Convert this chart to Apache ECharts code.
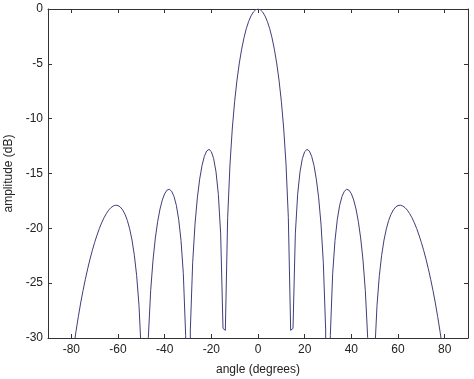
<!DOCTYPE html>
<html>
<head>
<meta charset="utf-8">
<script src="https://cdn.jsdelivr.net/npm/echarts@6/dist/echarts.min.js"></script>
<style>
html,body{margin:0;padding:0;background:#fff;}
#c{width:474px;height:379px;}
</style>
</head>
<body>
<div id="c"></div>
<script>
// angle samples (degrees)
var angles = [
-90,-89,-88,-87,-86,-85,-84,-83,-82,-81,-80,-79,-78,-77,-76,-75,-74,-73,-72,-71,
-70,-69,-68,-67,-66,-65,-64,-63,-62,-61,-60,-59,-58,-57,-56,-55,-54,-53,-52,-51,
-50,-49,-48,-47,-46,-45,-44,-43,-42,-41,-40,-39,-38,-37,-36,-35,-34,-33,-32,-31,
-30,-29,-28,-27,-26,-25,-24,-23,-22,-21,-20,-19,-18,-17,-16,-15,-14,-13,-12,-11,
-10,-9,-8,-7,-6,-5,-4,-3,-2,-1,
0,1,2,3,4,5,6,7,8,9,10,11,12,13,14,15,16,17,18,19,
20,21,22,23,24,25,26,27,28,29,30,31,32,33,34,35,36,37,38,39,
40,41,42,43,44,45,46,47,48,49,50,51,52,53,54,55,56,57,58,59,
60,61,62,63,64,65,66,67,68,69,70,71,72,73,74,75,76,77,78,79,
80,81,82,83,84,85,86,87,88,89,90
];
// amplitude (dB), left half: -90 .. -1
var ampLeft = [
-100,-72.4,-60.4,-53.3,-48.3,-44.5,-41.3,-38.6,-36.3,-34.3,
-32.5,-30.87,-29.39,-28.05,-26.81,-25.68,-24.65,-23.69,-22.81,-22.01,
-21.28,-20.62,-20.02,-19.49,-19.04,-18.66,-18.34,-18.11,-17.96,-17.89,
-17.92,-18.06,-18.32,-18.72,-19.28,-20.05,-21.07,-22.45,-24.32,-27.03,
-31.43,-42.0,-38.6,-29.94,-25.69,-22.90,-20.89,-19.38,-18.24,-17.41,
-16.84,-16.52,-16.44,-16.62,-17.09,-17.90,-19.17,-21.10,-24.14,-29.77,
-100,-29.28,-23.14,-19.62,-17.22,-15.52,-14.28,-13.44,-12.95,-12.80,
-13.01,-13.65,-14.85,-16.89,-20.5,-29.13,-29.3,-19.02,-14.13,-10.85,
-8.41,-6.48,-4.92,-3.66,-2.62,-1.78,-1.13,-0.63,-0.28,-0.07
];
// amplitude (dB), right half: 0 .. 90
var ampRight = [
0,-0.07,-0.28,-0.63,-1.13,-1.78,-2.62,-3.66,-4.92,-6.48,
-8.41,-10.85,-14.13,-19.02,-29.3,-29.13,-20.5,-16.89,-14.85,-13.65,
-13.01,-12.80,-12.95,-13.44,-14.28,-15.52,-17.22,-19.62,-23.14,-29.28,
-100,-29.77,-24.14,-21.10,-19.17,-17.90,-17.09,-16.62,-16.44,-16.52,
-16.84,-17.41,-18.24,-19.38,-20.89,-22.90,-25.69,-29.94,-38.6,-42.0,
-31.43,-27.03,-24.32,-22.45,-21.07,-20.05,-19.28,-18.72,-18.32,-18.06,
-17.92,-17.89,-17.96,-18.11,-18.34,-18.66,-19.04,-19.49,-20.02,-20.62,
-21.28,-22.01,-22.81,-23.69,-24.65,-25.68,-26.81,-28.05,-29.39,-30.87,
-32.5,-34.3,-36.3,-38.6,-41.3,-44.5,-48.3,-53.3,-60.4,-72.4,
-100
];
var xTicks = [-80,-60,-40,-20,0,20,40,60,80];
var yTicks = [-30,-25,-20,-15,-10,-5,0];

var amps = ampLeft.concat(ampRight);
var pts = angles.map(function(a,i){ return [a, amps[i]]; });

var chart = echarts.init(document.getElementById('c'), null, {renderer:'canvas'});
var txt = {color:'#222', fontFamily:'Liberation Sans, Arial, sans-serif', fontSize:12};
var axLine = {show:true, onZero:false, lineStyle:{color:'#333', width:1}};
function xTick(){ return {show:true, inside:true, length:4, customValues:xTicks, lineStyle:{color:'#333', width:1}}; }
function yTick(){ return {show:true, inside:true, length:4, customValues:yTicks, lineStyle:{color:'#333', width:1}}; }
chart.setOption({
  animation:false,
  backgroundColor:'#fff',
  grid:{left:48, right:6, top:9, bottom:41, containLabel:false, outerBoundsMode:'none'},
  xAxis:[{
    type:'value', min:-90, max:90,
    axisLine:axLine, axisTick:xTick(), splitLine:{show:false},
    axisLabel:Object.assign({margin:6, customValues:xTicks}, txt),
    name:'angle (degrees)', nameLocation:'middle', nameGap:26, nameTextStyle:txt
  },{
    type:'value', min:-90, max:90, position:'top',
    axisLine:axLine, axisTick:xTick(), axisLabel:{show:false}, splitLine:{show:false}
  }],
  yAxis:[{
    type:'value', min:-30, max:0, interval:5,
    axisLine:axLine, axisTick:yTick(), splitLine:{show:false},
    axisLabel:Object.assign({margin:5, customValues:yTicks}, txt),
    name:'amplitude (dB)', nameLocation:'middle', nameGap:32, nameRotate:90, nameTextStyle:txt
  },{
    type:'value', min:-30, max:0, interval:5, position:'right',
    axisLine:axLine, axisTick:yTick(), axisLabel:{show:false}, splitLine:{show:false}
  }],
  series:[{
    type:'line', data:pts, xAxisIndex:0, yAxisIndex:0,
    showSymbol:false, symbol:'none', smooth:false, clip:true,
    lineStyle:{color:'#3e3e7a', width:1}
  }]
});
</script>
</body>
</html>
